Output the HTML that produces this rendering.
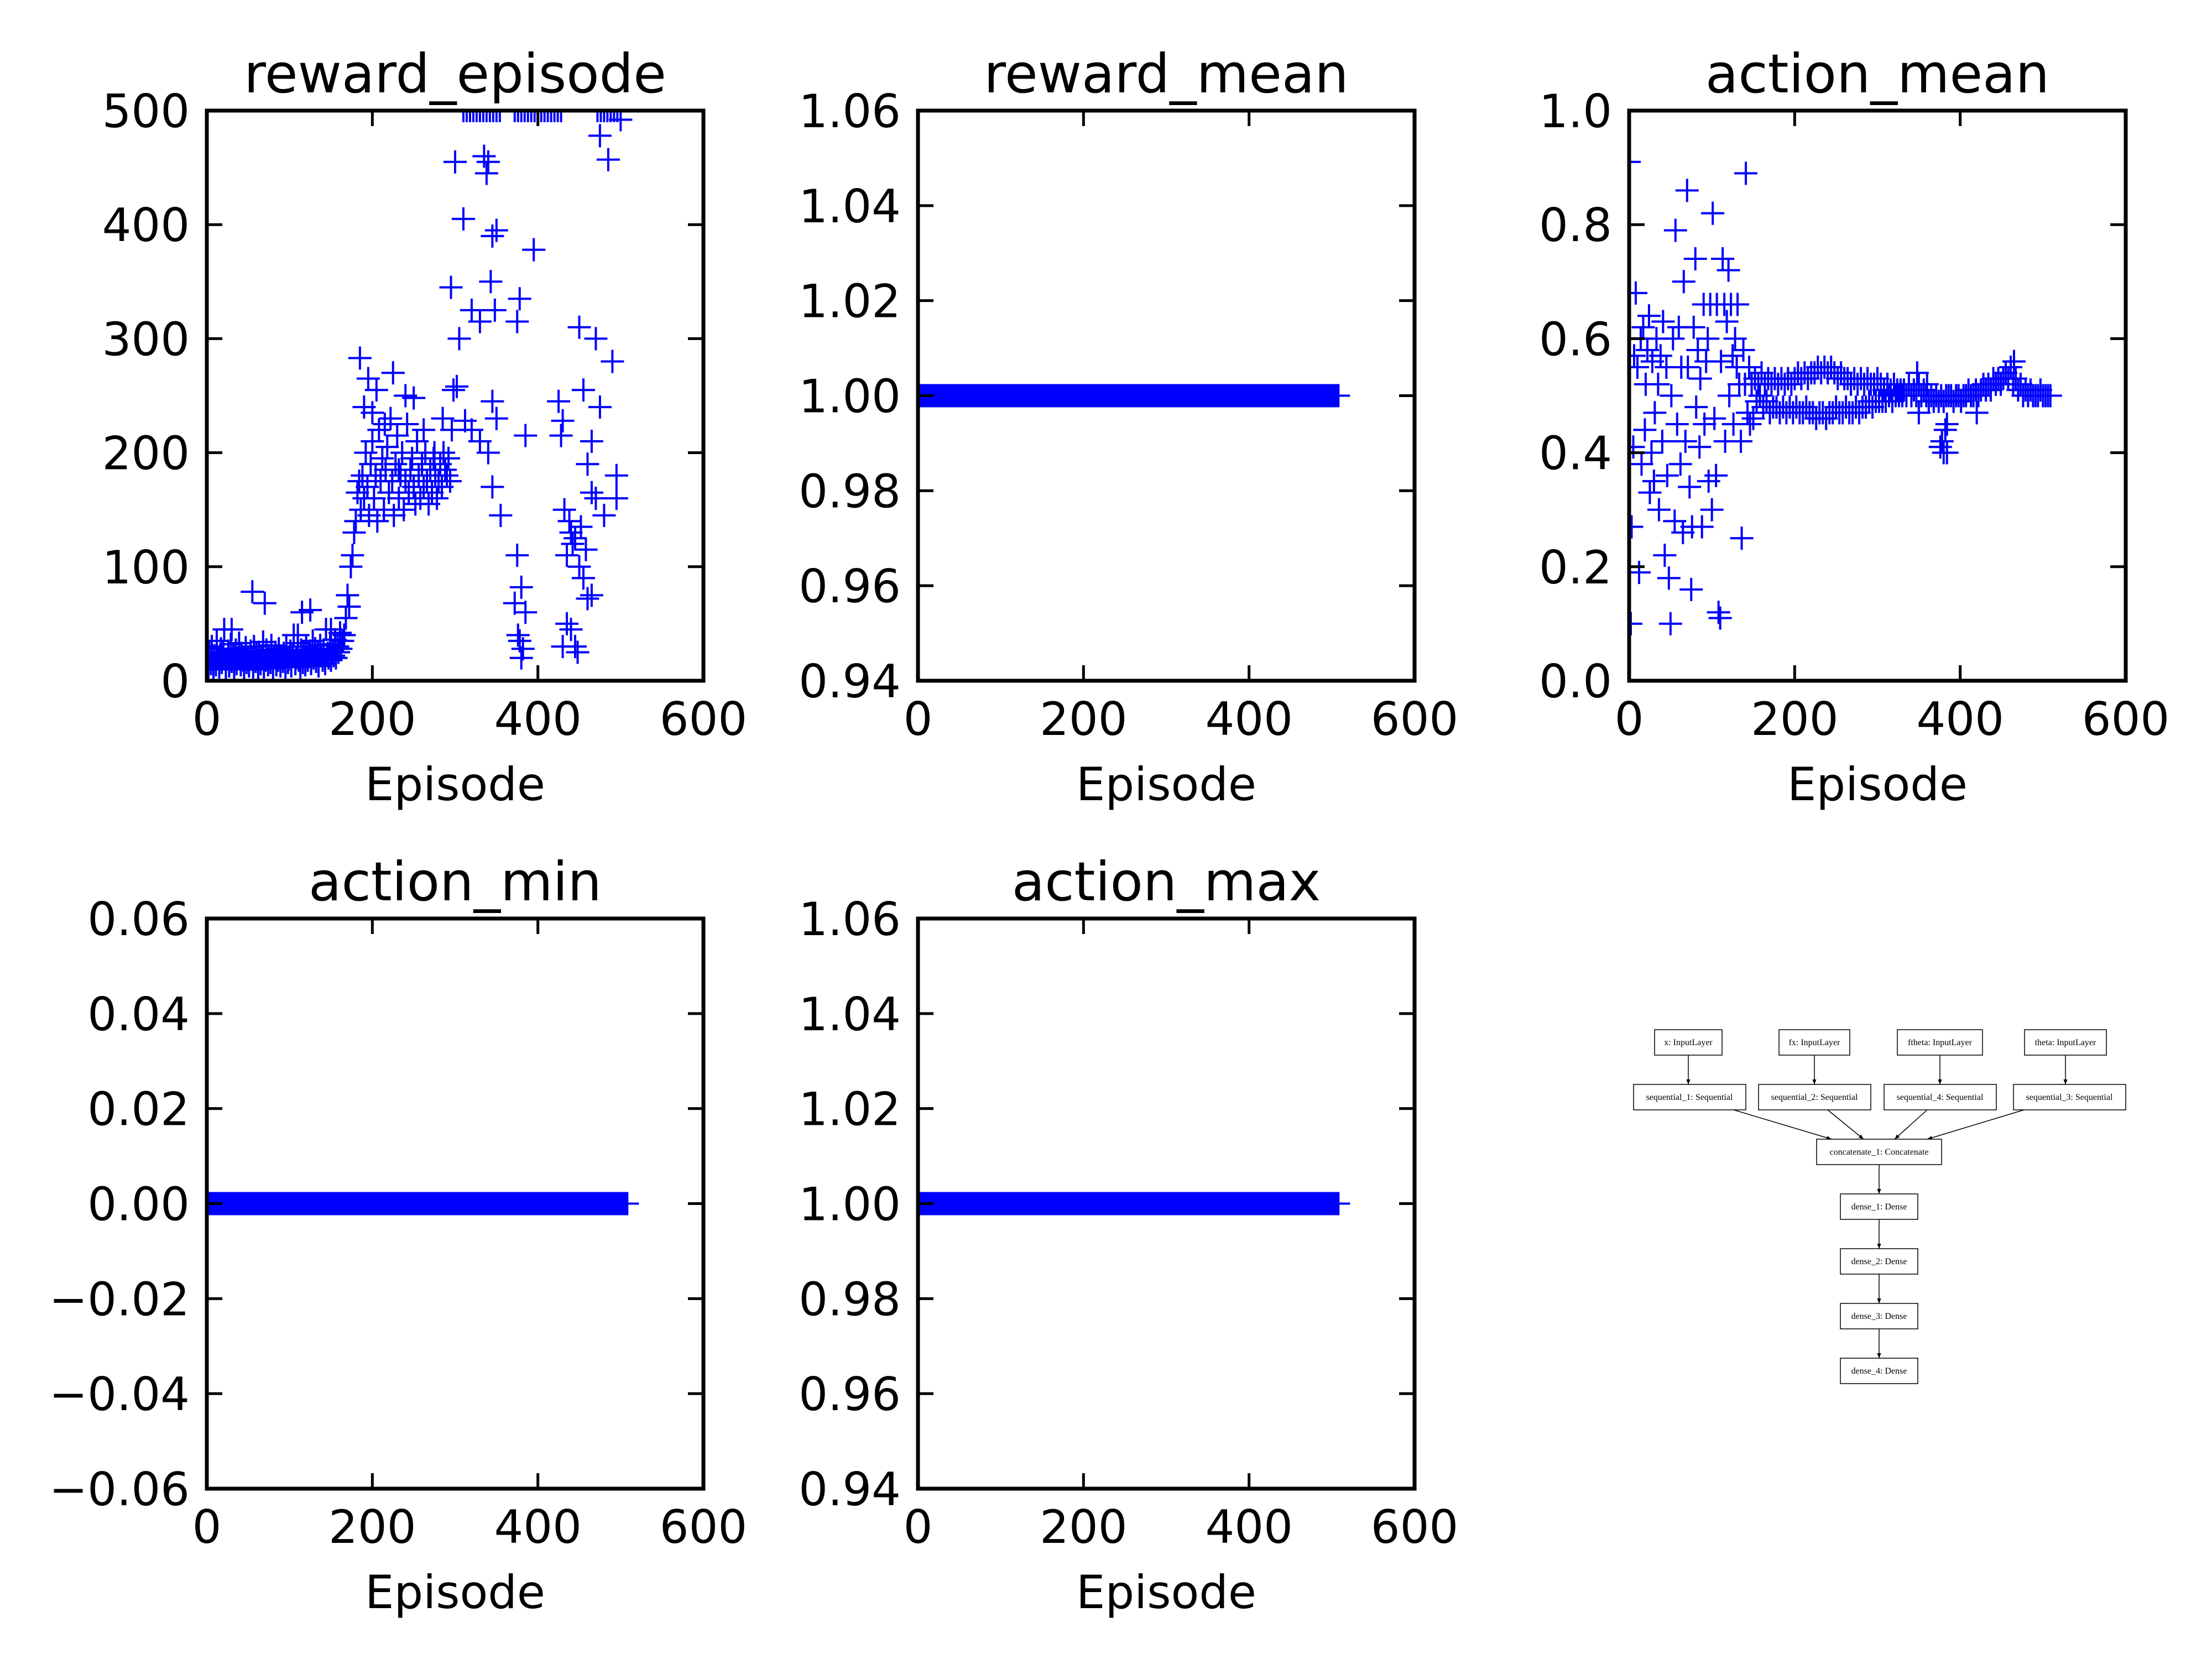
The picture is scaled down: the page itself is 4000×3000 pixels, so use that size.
<!DOCTYPE html>
<html><head><meta charset="utf-8"><title>Training metrics</title>
<style>
html,body{margin:0;padding:0;background:#fff;}
svg{display:block;}
text{font-family:"DejaVu Sans","Liberation Sans",sans-serif;fill:#000;}
.nn text{font-family:"Liberation Serif",serif;font-size:16px;}
</style></head>
<body>
<svg id="fig" width="4000" height="3000" viewBox="0 0 4000 3000" xmlns="http://www.w3.org/2000/svg">
<rect width="4000" height="3000" fill="#fff"/>
<g id="plots"></g>
<g class="nn" fill="none" stroke="#000" stroke-width="1.5">
<defs><marker id="ah" viewBox="0 0 10 10" refX="10" refY="5" markerWidth="6" markerHeight="6" orient="auto"><path d="M0,1 L10,5 L0,9 z" fill="#000" stroke="none"/></marker></defs>
<g><rect x="2992" y="1862" width="122" height="46"/><text x="3053" y="1890" text-anchor="middle" stroke="none">x: InputLayer</text></g>
<g><rect x="3217" y="1862" width="128" height="46"/><text x="3281" y="1890" text-anchor="middle" stroke="none">fx: InputLayer</text></g>
<g><rect x="3431" y="1862" width="154" height="46"/><text x="3508" y="1890" text-anchor="middle" stroke="none">ftheta: InputLayer</text></g>
<g><rect x="3661" y="1862" width="148" height="46"/><text x="3735" y="1890" text-anchor="middle" stroke="none">theta: InputLayer</text></g>
<g><rect x="2954" y="1961" width="203" height="46"/><text x="3055" y="1989" text-anchor="middle" stroke="none">sequential_1: Sequential</text></g>
<g><rect x="3180" y="1961" width="203" height="46"/><text x="3281" y="1989" text-anchor="middle" stroke="none">sequential_2: Sequential</text></g>
<g><rect x="3407" y="1961" width="203" height="46"/><text x="3508" y="1989" text-anchor="middle" stroke="none">sequential_4: Sequential</text></g>
<g><rect x="3641" y="1961" width="203" height="46"/><text x="3742" y="1989" text-anchor="middle" stroke="none">sequential_3: Sequential</text></g>
<g><rect x="3285" y="2060" width="226" height="46"/><text x="3398" y="2088" text-anchor="middle" stroke="none">concatenate_1: Concatenate</text></g>
<g><rect x="3328" y="2159" width="140" height="46"/><text x="3398" y="2187" text-anchor="middle" stroke="none">dense_1: Dense</text></g>
<g><rect x="3328" y="2258" width="140" height="46"/><text x="3398" y="2286" text-anchor="middle" stroke="none">dense_2: Dense</text></g>
<g><rect x="3328" y="2357" width="140" height="46"/><text x="3398" y="2385" text-anchor="middle" stroke="none">dense_3: Dense</text></g>
<g><rect x="3328" y="2456" width="140" height="46"/><text x="3398" y="2484" text-anchor="middle" stroke="none">dense_4: Dense</text></g>
<g marker-end="url(#ah)">
<line x1="3053" y1="1908" x2="3053" y2="1961"/><line x1="3281" y1="1908" x2="3281" y2="1961"/>
<line x1="3508" y1="1908" x2="3508" y2="1961"/><line x1="3735" y1="1908" x2="3735" y2="1961"/>
<line x1="3135" y1="2007" x2="3312" y2="2060"/><line x1="3305" y1="2007" x2="3370" y2="2060"/>
<line x1="3485" y1="2007" x2="3426" y2="2060"/><line x1="3660" y1="2007" x2="3485" y2="2060"/>
<line x1="3398" y1="2106" x2="3398" y2="2159"/><line x1="3398" y1="2205" x2="3398" y2="2258"/>
<line x1="3398" y1="2304" x2="3398" y2="2357"/><line x1="3398" y1="2403" x2="3398" y2="2456"/>
</g>
</g>
</svg>
<script>
// ---- data ----
const xTicks = [0, 200, 400, 600];
const rewardTicks = [0, 100, 200, 300, 400, 500];
const rewardTickLabels = ["0","100","200","300","400","500"];
const meanTicks = [0.94, 0.96, 0.98, 1.00, 1.02, 1.04, 1.06];
const meanTickLabels = ["0.94","0.96","0.98","1.00","1.02","1.04","1.06"];
const actTicks = [0, 0.2, 0.4, 0.6, 0.8, 1.0];
const actTickLabels = ["0.0","0.2","0.4","0.6","0.8","1.0"];
const minTicks = [-0.06, -0.04, -0.02, 0, 0.02, 0.04, 0.06];
const minTickLabels = ["\u22120.06","\u22120.04","\u22120.02","0.00","0.02","0.04","0.06"];

const rewardEpisodeX = [0,2,3,5,6,8,9,11,12,14,15,17,18,20,21,23,24,26,27,29,30,32,33,35,36,38,39,41,42,44,45,47,48,50,51,53,54,56,57,59,60,62,63,65,66,68,69,71,72,74,75,77,78,80,81,83,84,86,87,89,90,92,93,95,96,98,99,101,102,104,105,107,108,110,111,113,114,116,117,119,120,122,123,125,126,128,129,131,132,134,135,137,138,140,141,143,144,146,147,149,150,152,153,155,156,158,159,161,162,164,
55,70,115,125,30,110,150,
166,168,170,172,174,176,178,180,
182,184,186,188,190,192,194,196,198,200,202,204,206,208,210,212,214,216,218,220,222,224,226,228,230,232,234,236,238,240,242,244,246,248,250,252,254,256,258,260,262,264,266,268,270,272,274,276,278,280,282,284,286,288,290,292,294,296,
185,195,205,225,190,240,250,200,215,232,262,275,285,298,
300,310,305,295,320,330,335,340,338,345,350,343,348,345,350,340,345,355,330,320,302,312,
375,380,385,372,378,382,380,376,395,378,375,385,
425,430,428,432,435,440,445,450,455,460,465,430,435,440,445,448,450,455,470,475,465,460,465,470,480,490,495,495,475,485,500,438,442,452,458,
310,314,318,322,326,330,334,338,342,346,350,354,372,376,380,384,388,392,396,400,404,408,412,416,420,424,428,472,476,480,484,488,492,496];
const rewardEpisodeY = [18,12,25,15,30,10,22,14,35,20,12,28,16,24,45,11,19,26,13,32,17,22,10,27,15,20,33,14,24,18,11,29,16,21,13,26,19,12,30,17,23,10,25,15,20,34,12,18,27,14,22,16,31,11,20,25,14,18,28,13,21,17,24,12,30,16,19,26,13,22,40,15,20,33,18,12,27,16,24,14,30,18,22,26,15,35,20,28,17,24,13,31,22,18,27,15,45,24,20,32,18,26,22,36,20,30,25,42,28,35,
78,68,60,62,45,40,45,
40,55,75,65,100,110,130,140,
165,175,150,180,160,200,170,145,190,210,160,180,140,220,175,195,150,185,205,165,230,175,145,190,215,160,180,200,150,175,225,165,185,195,170,155,210,180,160,190,170,200,175,155,185,165,195,180,160,175,190,170,200,185,180,195,175,220,
283,265,255,270,240,250,248,235,225,185,220,200,230,255,
455,405,300,345,325,315,460,455,445,390,395,350,325,245,230,200,170,145,210,220,258,228,
110,82,60,68,35,28,20,40,378,335,315,215,
245,228,215,150,110,130,125,100,90,72,75,30,50,45,30,25,310,255,300,240,210,190,165,160,145,280,180,160,478,457,492,140,120,135,115,
500,500,500,500,500,500,500,500,500,500,500,500,500,500,500,500,500,500,500,500,500,500,500,500,500,500,500,500,500,500,500,500,500,500];

const rewardMean = [
1,1,1,1,1,1,1,1,1,1,1,1,1,1,1,1,1,1,1,1,1,1,1,1,1,1,1,1,1,1,1,1,1,1,1,1,1,1,1,1,1,1,1,1,1,1,1,1,1,1,
1,1,1,1,1,1,1,1,1,1,1,1,1,1,1,1,1,1,1,1,1,1,1,1,1,1,1,1,1,1,1,1,1,1,1,1,1,1,1,1,1,1,1,1,1,1,1,1,1,1,
1,1,1,1,1,1,1,1,1,1,1,1,1,1,1,1,1,1,1,1,1,1,1,1,1,1,1,1,1,1,1,1,1,1,1,1,1,1,1,1,1,1,1,1,1,1,1,1,1,1,
1,1,1,1,1,1,1,1,1,1,1,1,1,1,1,1,1,1,1,1,1,1,1,1,1,1,1,1,1,1,1,1,1,1,1,1,1,1,1,1,1,1,1,1,1,1,1,1,1,1,
1,1,1,1,1,1,1,1,1,1,1,1,1,1,1,1,1,1,1,1,1,1,1,1,1,1,1,1,1,1,1,1,1,1,1,1,1,1,1,1,1,1,1,1,1,1,1,1,1,1,
1,1,1,1,1,1,1,1,1,1,1,1,1,1,1,1,1,1,1,1,1,1,1,1,1,1,1,1,1,1,1,1,1,1,1,1,1,1,1,1,1,1,1,1,1,1,1,1,1,1,
1,1,1,1,1,1,1,1,1,1,1,1,1,1,1,1,1,1,1,1,1,1,1,1,1,1,1,1,1,1,1,1,1,1,1,1,1,1,1,1,1,1,1,1,1,1,1,1,1,1,
1,1,1,1,1,1,1,1,1,1,1,1,1,1,1,1,1,1,1,1,1,1,1,1,1,1,1,1,1,1,1,1,1,1,1,1,1,1,1,1,1,1,1,1,1,1,1,1,1,1,
1,1,1,1,1,1,1,1,1,1,1,1,1,1,1,1,1,1,1,1,1,1,1,1,1,1,1,1,1,1,1,1,1,1,1,1,1,1,1,1,1,1,1,1,1,1,1,1,1,1,
1,1,1,1,1,1,1,1,1,1,1,1,1,1,1,1,1,1,1,1,1,1,1,1,1,1,1,1,1,1,1,1,1,1,1,1,1,1,1,1,1,1,1,1,1,1,1,1,1,1,
1,1,1,1,1,1,1,1,1];
const actionMin = [
0,0,0,0,0,0,0,0,0,0,0,0,0,0,0,0,0,0,0,0,0,0,0,0,0,0,0,0,0,0,0,0,0,0,0,0,0,0,0,0,0,0,0,0,0,0,0,0,0,0,
0,0,0,0,0,0,0,0,0,0,0,0,0,0,0,0,0,0,0,0,0,0,0,0,0,0,0,0,0,0,0,0,0,0,0,0,0,0,0,0,0,0,0,0,0,0,0,0,0,0,
0,0,0,0,0,0,0,0,0,0,0,0,0,0,0,0,0,0,0,0,0,0,0,0,0,0,0,0,0,0,0,0,0,0,0,0,0,0,0,0,0,0,0,0,0,0,0,0,0,0,
0,0,0,0,0,0,0,0,0,0,0,0,0,0,0,0,0,0,0,0,0,0,0,0,0,0,0,0,0,0,0,0,0,0,0,0,0,0,0,0,0,0,0,0,0,0,0,0,0,0,
0,0,0,0,0,0,0,0,0,0,0,0,0,0,0,0,0,0,0,0,0,0,0,0,0,0,0,0,0,0,0,0,0,0,0,0,0,0,0,0,0,0,0,0,0,0,0,0,0,0,
0,0,0,0,0,0,0,0,0,0,0,0,0,0,0,0,0,0,0,0,0,0,0,0,0,0,0,0,0,0,0,0,0,0,0,0,0,0,0,0,0,0,0,0,0,0,0,0,0,0,
0,0,0,0,0,0,0,0,0,0,0,0,0,0,0,0,0,0,0,0,0,0,0,0,0,0,0,0,0,0,0,0,0,0,0,0,0,0,0,0,0,0,0,0,0,0,0,0,0,0,
0,0,0,0,0,0,0,0,0,0,0,0,0,0,0,0,0,0,0,0,0,0,0,0,0,0,0,0,0,0,0,0,0,0,0,0,0,0,0,0,0,0,0,0,0,0,0,0,0,0,
0,0,0,0,0,0,0,0,0,0,0,0,0,0,0,0,0,0,0,0,0,0,0,0,0,0,0,0,0,0,0,0,0,0,0,0,0,0,0,0,0,0,0,0,0,0,0,0,0,0,
0,0,0,0,0,0,0,0,0,0,0,0,0,0,0,0,0,0,0,0,0,0,0,0,0,0,0,0,0,0,0,0,0,0,0,0,0,0,0,0,0,0,0,0,0,0,0,0,0,0,
0,0,0,0,0,0,0,0,0];
const actionMax = [
1,1,1,1,1,1,1,1,1,1,1,1,1,1,1,1,1,1,1,1,1,1,1,1,1,1,1,1,1,1,1,1,1,1,1,1,1,1,1,1,1,1,1,1,1,1,1,1,1,1,
1,1,1,1,1,1,1,1,1,1,1,1,1,1,1,1,1,1,1,1,1,1,1,1,1,1,1,1,1,1,1,1,1,1,1,1,1,1,1,1,1,1,1,1,1,1,1,1,1,1,
1,1,1,1,1,1,1,1,1,1,1,1,1,1,1,1,1,1,1,1,1,1,1,1,1,1,1,1,1,1,1,1,1,1,1,1,1,1,1,1,1,1,1,1,1,1,1,1,1,1,
1,1,1,1,1,1,1,1,1,1,1,1,1,1,1,1,1,1,1,1,1,1,1,1,1,1,1,1,1,1,1,1,1,1,1,1,1,1,1,1,1,1,1,1,1,1,1,1,1,1,
1,1,1,1,1,1,1,1,1,1,1,1,1,1,1,1,1,1,1,1,1,1,1,1,1,1,1,1,1,1,1,1,1,1,1,1,1,1,1,1,1,1,1,1,1,1,1,1,1,1,
1,1,1,1,1,1,1,1,1,1,1,1,1,1,1,1,1,1,1,1,1,1,1,1,1,1,1,1,1,1,1,1,1,1,1,1,1,1,1,1,1,1,1,1,1,1,1,1,1,1,
1,1,1,1,1,1,1,1,1,1,1,1,1,1,1,1,1,1,1,1,1,1,1,1,1,1,1,1,1,1,1,1,1,1,1,1,1,1,1,1,1,1,1,1,1,1,1,1,1,1,
1,1,1,1,1,1,1,1,1,1,1,1,1,1,1,1,1,1,1,1,1,1,1,1,1,1,1,1,1,1,1,1,1,1,1,1,1,1,1,1,1,1,1,1,1,1,1,1,1,1,
1,1,1,1,1,1,1,1,1,1,1,1,1,1,1,1,1,1,1,1,1,1,1,1,1,1,1,1,1,1,1,1,1,1,1,1,1,1,1,1,1,1,1,1,1,1,1,1,1,1,
1,1,1,1,1,1,1,1,1,1,1,1,1,1,1,1,1,1,1,1,1,1,1,1,1,1,1,1,1,1,1,1,1,1,1,1,1,1,1,1,1,1,1,1,1,1,1,1,1,1,
1,1,1,1,1,1,1,1,1];

const actionMeanX = [0,2,3,5,6,8,10,12,14,15,17,19,20,22,24,25,27,28,30,31,33,35,36,38,40,41,43,45,46,48,50,51,53,55,56,58,60,62,63,65,66,68,70,71,73,75,76,78,80,81,83,85,86,88,90,91,93,95,96,98,100,101,103,105,106,108,110,111,113,115,116,118,120,121,123,125,126,128,130,131,133,135,136,138,140,141,143,145,146,148,150,
152,156,160,164,168,172,176,180,184,188,192,196,200,204,208,212,216,220,224,228,232,236,240,244,248,252,256,260,264,268,272,276,280,284,288,292,296,300,304,308,312,316,320,324,328,
154,158,162,166,170,174,178,182,186,190,194,198,202,206,210,214,218,222,226,230,234,238,242,246,250,254,258,262,266,270,274,278,282,286,290,294,298,302,306,310,314,318,322,326,330,
332,335,338,341,344,347,350,353,356,359,362,365,368,371,374,377,380,383,386,389,392,395,398,401,404,407,410,413,416,419,422,425,428,431,434,437,440,443,446,449,452,455,458,461,464,467,470,473,476,479,482,485,488,491,494,497,500,503,506,509,
378,380,382,376,384,384,348,350,420,465,360];
const actionMeanY = [0.91,0.1,0.27,0.41,0.57,0.68,0.55,0.19,0.6,0.38,0.62,0.44,0.52,0.58,0.64,0.33,0.4,0.56,0.35,0.47,0.6,0.52,0.3,0.57,0.42,0.63,0.22,0.55,0.36,0.18,0.1,0.5,0.6,0.28,0.79,0.45,0.62,0.38,0.55,0.26,0.7,0.42,0.86,0.55,0.34,0.16,0.27,0.62,0.74,0.48,0.58,0.41,0.53,0.27,0.66,0.45,0.56,0.6,0.35,0.66,0.3,0.82,0.46,0.36,0.66,0.12,0.11,0.56,0.74,0.66,0.42,0.63,0.72,0.5,0.66,0.57,0.45,0.6,0.55,0.66,0.52,0.42,0.25,0.58,0.52,0.89,0.47,0.55,0.45,0.52,0.46,
0.53,0.52,0.54,0.52,0.53,0.52,0.53,0.52,0.53,0.52,0.53,0.52,0.53,0.54,0.53,0.54,0.53,0.54,0.54,0.55,0.54,0.55,0.54,0.55,0.54,0.53,0.54,0.53,0.53,0.52,0.53,0.52,0.53,0.52,0.53,0.52,0.52,0.53,0.52,0.51,0.52,0.51,0.52,0.51,0.51,
0.49,0.5,0.48,0.49,0.47,0.48,0.48,0.47,0.48,0.47,0.48,0.47,0.48,0.47,0.47,0.48,0.47,0.47,0.46,0.47,0.47,0.46,0.47,0.47,0.48,0.47,0.47,0.48,0.47,0.47,0.48,0.47,0.48,0.48,0.49,0.48,0.49,0.49,0.49,0.49,0.5,0.49,0.5,0.5,0.5,
0.51,0.5,0.52,0.5,0.51,0.5,0.52,0.5,0.51,0.5,0.49,0.5,0.49,0.5,0.49,0.5,0.49,0.5,0.5,0.5,0.49,0.5,0.5,0.49,0.5,0.5,0.51,0.5,0.5,0.51,0.5,0.51,0.52,0.51,0.52,0.51,0.53,0.52,0.53,0.52,0.53,0.54,0.53,0.55,0.52,0.53,0.51,0.52,0.5,0.51,0.5,0.51,0.5,0.5,0.5,0.51,0.5,0.5,0.5,0.5,
0.42,0.4,0.44,0.41,0.45,0.4,0.54,0.47,0.47,0.56,0.52];

// ---- drawing ----
const NS = "http://www.w3.org/2000/svg";
const root = document.getElementById("plots");
function mk(tag, attrs, parent) {
  const e = document.createElementNS(NS, tag);
  for (const k in attrs) e.setAttribute(k, attrs[k]);
  parent.appendChild(e);
  return e;
}
const W = 898, H = 1031, MS = 21;

function drawAxes(name, left, top, yMin, yMax, yTicks, yLabels, title, xs, ys) {
  const g = mk("g", {}, root);
  
  
  const sx = v => left + (v - 0) / 600 * W;
  const sy = v => top + H - (v - yMin) / (yMax - yMin) * H;
  const cid = "clip-" + name;
  const cp = mk("clipPath", {id: cid}, g);
  mk("rect", {x: left, y: top, width: W, height: H}, cp);
  const marks = mk("g", {"clip-path": "url(#" + cid + ")", stroke: "#0000ff", "stroke-width": 4, fill: "none"}, g);
  
  
  for (let i = 0; i < ys.length; i++) {
    const x = sx(xs ? xs[i] : i), y = sy(ys[i]);
    const p = mk("path", {d: `M${x - MS},${y}h${2 * MS}M${x},${y - MS}v${2 * MS}`}, marks);
    
    
  }
  const frame = mk("rect", {x: left, y: top, width: W, height: H, fill: "none", stroke: "#000", "stroke-width": 7}, g);
  
  
  const tk = mk("g", {stroke: "#000", "stroke-width": 5}, g);
  
  
  xTicks.forEach(v => {
    const x = sx(v);
    mk("line", {x1: x, y1: top + H, x2: x, y2: top + H - 28}, tk);
    mk("line", {x1: x, y1: top, x2: x, y2: top + 28}, tk);
    const t = mk("text", {x: x, y: top + H + 98, "text-anchor": "middle", "font-size": 83}, g);
    
    
    t.textContent = String(v);
  });
  yTicks.forEach((v, i) => {
    const y = sy(v);
    mk("line", {x1: left, y1: y, x2: left + 28, y2: y}, tk);
    mk("line", {x1: left + W, y1: y, x2: left + W - 28, y2: y}, tk);
    const t = mk("text", {x: left - 31, y: y + 30, "text-anchor": "end", "font-size": 83}, g);
    
    
    t.textContent = yLabels[i];
  });
  const tt = mk("text", {x: left + W / 2, y: top - 33, "text-anchor": "middle", "font-size": 97}, g);
  
  
  tt.textContent = title;
  const xl = mk("text", {x: left + W / 2, y: top + H + 216, "text-anchor": "middle", "font-size": 83}, g);
  
  
  xl.textContent = "Episode";
}

drawAxes("reward-episode", 374, 200, 0, 500, rewardTicks, rewardTickLabels, "reward_episode", rewardEpisodeX, rewardEpisodeY);
drawAxes("reward-mean", 1660, 200, 0.94, 1.06, meanTicks, meanTickLabels, "reward_mean", null, rewardMean);
drawAxes("action-mean", 2946, 200, 0, 1, actTicks, actTickLabels, "action_mean", actionMeanX, actionMeanY);
drawAxes("action-min", 374, 1661, -0.06, 0.06, minTicks, minTickLabels, "action_min", null, actionMin);
drawAxes("action-max", 1660, 1661, 0.94, 1.06, meanTicks, meanTickLabels, "action_max", null, actionMax);
</script>
</body></html>
